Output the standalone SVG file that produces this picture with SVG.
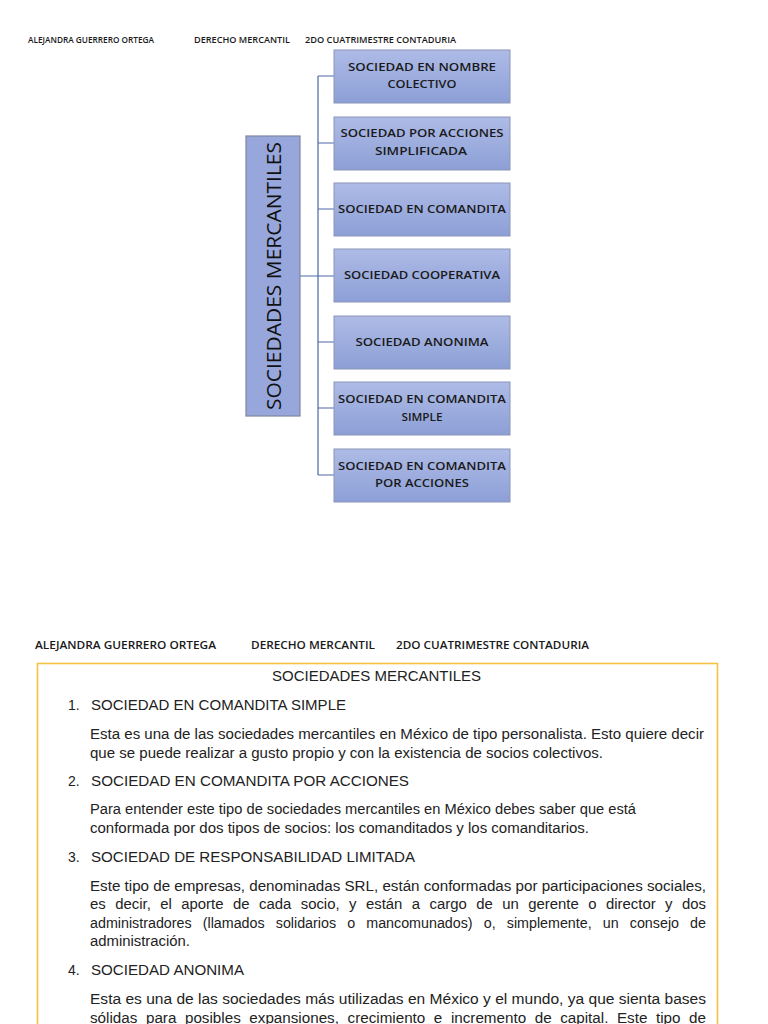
<svg xmlns="http://www.w3.org/2000/svg" width="768" height="1024" viewBox="0 0 768 1024">
<defs>
<linearGradient id="g" x1="0" y1="0" x2="0" y2="1">
<stop offset="0" stop-color="#aebbe6"/>
<stop offset="1" stop-color="#8c9fd6"/>
</linearGradient>
<style>
.hd{font-family:"Open Sans","Liberation Sans",sans-serif;fill:#1a1a1a;font-weight:600}
.box{fill:url(#g);stroke:#8a95b8;stroke-width:1}
.nt{font-family:"Open Sans","Liberation Sans",sans-serif;font-size:11px;font-weight:600;fill:#1a1a1a;text-anchor:middle}
.cn{stroke:#4a6aa6;stroke-width:1.2;fill:none}
.tx{font-family:"Liberation Sans",Arial,sans-serif;font-size:14px;fill:#222}
</style>
</defs>
<rect width="768" height="1024" fill="#ffffff"/>
<g id="header1" class="hd" font-size="9">
<text x="28" y="43" textLength="126" lengthAdjust="spacingAndGlyphs">ALEJANDRA GUERRERO ORTEGA</text>
<text x="194" y="43" textLength="96" lengthAdjust="spacingAndGlyphs">DERECHO MERCANTIL</text>
<text x="305" y="43" textLength="151" lengthAdjust="spacingAndGlyphs">2DO CUATRIMESTRE CONTADURIA</text>
</g>
<g id="connectors">
<path class="cn" d="M300 276 H318 M318 76 V475 M318 76 H334 M318 143 H334 M318 209 H334 M318 276 H334 M318 342 H334 M318 408 H334 M318 475 H334"/>
</g>
<g id="root">
<rect x="246" y="136" width="54" height="280" fill="#97a7dc" stroke="#7d869f" stroke-width="1.2"/>
<text transform="translate(281 276) rotate(-90)" text-anchor="middle" font-family="Open Sans,Liberation Sans,sans-serif" font-size="20" fill="#111" textLength="268" lengthAdjust="spacingAndGlyphs">SOCIEDADES MERCANTILES</text>
</g>
<g id="n1"><rect class="box" x="334" y="50" width="176" height="53"/>
<text class="nt" x="422" y="71" textLength="148" lengthAdjust="spacingAndGlyphs">SOCIEDAD EN NOMBRE</text>
<text class="nt" x="422" y="88" textLength="69" lengthAdjust="spacingAndGlyphs">COLECTIVO</text></g>
<g id="n2"><rect class="box" x="334" y="117" width="176" height="53"/>
<text class="nt" x="422" y="137" textLength="163" lengthAdjust="spacingAndGlyphs">SOCIEDAD POR ACCIONES</text>
<text class="nt" x="421" y="155" textLength="92" lengthAdjust="spacingAndGlyphs">SIMPLIFICADA</text></g>
<g id="n3"><rect class="box" x="334" y="183" width="176" height="53"/>
<text class="nt" x="422" y="213" textLength="168" lengthAdjust="spacingAndGlyphs">SOCIEDAD EN COMANDITA</text></g>
<g id="n4"><rect class="box" x="334" y="249" width="176" height="53"/>
<text class="nt" x="422" y="279" textLength="156" lengthAdjust="spacingAndGlyphs">SOCIEDAD COOPERATIVA</text></g>
<g id="n5"><rect class="box" x="334" y="316" width="176" height="53"/>
<text class="nt" x="422" y="346" textLength="133" lengthAdjust="spacingAndGlyphs">SOCIEDAD ANONIMA</text></g>
<g id="n6"><rect class="box" x="334" y="382" width="176" height="53"/>
<text class="nt" x="422" y="403" textLength="168" lengthAdjust="spacingAndGlyphs">SOCIEDAD EN COMANDITA</text>
<text class="nt" x="422" y="421" textLength="41" lengthAdjust="spacingAndGlyphs">SIMPLE</text></g>
<g id="n7"><rect class="box" x="334" y="449" width="176" height="53"/>
<text class="nt" x="422" y="470" textLength="168" lengthAdjust="spacingAndGlyphs">SOCIEDAD EN COMANDITA</text>
<text class="nt" x="422" y="487" textLength="94" lengthAdjust="spacingAndGlyphs">POR ACCIONES</text></g>
<g id="header2" class="hd" font-size="11">
<text x="35" y="649" textLength="181" lengthAdjust="spacingAndGlyphs">ALEJANDRA GUERRERO ORTEGA</text>
<text x="251" y="649" textLength="124" lengthAdjust="spacingAndGlyphs">DERECHO MERCANTIL</text>
<text x="396" y="649" textLength="193" lengthAdjust="spacingAndGlyphs">2DO CUATRIMESTRE CONTADURIA</text>
</g>
<g id="textbox">
<rect x="37.5" y="663.5" width="680" height="380" fill="none" stroke="#f4c344" stroke-width="1.6"/>
<g class="tx">
<text x="272" y="681" textLength="209" lengthAdjust="spacingAndGlyphs">SOCIEDADES MERCANTILES</text>
<text x="68" y="710">1.</text>
<text x="91" y="710" textLength="255" lengthAdjust="spacingAndGlyphs">SOCIEDAD EN COMANDITA SIMPLE</text>
<text x="90" y="739" textLength="614" lengthAdjust="spacingAndGlyphs">Esta es una de las sociedades mercantiles en México de tipo personalista. Esto quiere decir</text>
<text x="90" y="758" textLength="513" lengthAdjust="spacingAndGlyphs">que se puede realizar a gusto propio y con la existencia de socios colectivos.</text>
<text x="68" y="786">2.</text>
<text x="91" y="786" textLength="318" lengthAdjust="spacingAndGlyphs">SOCIEDAD EN COMANDITA POR ACCIONES</text>
<text x="90" y="814" textLength="546" lengthAdjust="spacingAndGlyphs">Para entender este tipo de sociedades mercantiles en México debes saber que está</text>
<text x="90" y="833" textLength="499" lengthAdjust="spacingAndGlyphs">conformada por dos tipos de socios: los comanditados y los comanditarios.</text>
<text x="68" y="862">3.</text>
<text x="91" y="862" textLength="324" lengthAdjust="spacingAndGlyphs">SOCIEDAD DE RESPONSABILIDAD LIMITADA</text>
<text x="90" y="891" textLength="616" lengthAdjust="spacingAndGlyphs">Este tipo de empresas, denominadas SRL, están conformadas por participaciones sociales,</text>
<text x="90" y="909" word-spacing="5" textLength="616" lengthAdjust="spacingAndGlyphs">es decir, el aporte de cada socio, y están a cargo de un gerente o director y dos</text>
<text x="90" y="928" word-spacing="7" textLength="616" lengthAdjust="spacingAndGlyphs">administradores (llamados solidarios o mancomunados) o, simplemente, un consejo de</text>
<text x="90" y="946" textLength="100" lengthAdjust="spacingAndGlyphs">administración.</text>
<text x="68" y="975">4.</text>
<text x="91" y="975" textLength="153" lengthAdjust="spacingAndGlyphs">SOCIEDAD ANONIMA</text>
<text x="90" y="1004" textLength="616" lengthAdjust="spacingAndGlyphs">Esta es una de las sociedades más utilizadas en México y el mundo, ya que sienta bases</text>
<text x="90" y="1023" word-spacing="4" textLength="616" lengthAdjust="spacingAndGlyphs">sólidas para posibles expansiones, crecimiento e incremento de capital. Este tipo de</text>
</g>
</g>
</svg>
